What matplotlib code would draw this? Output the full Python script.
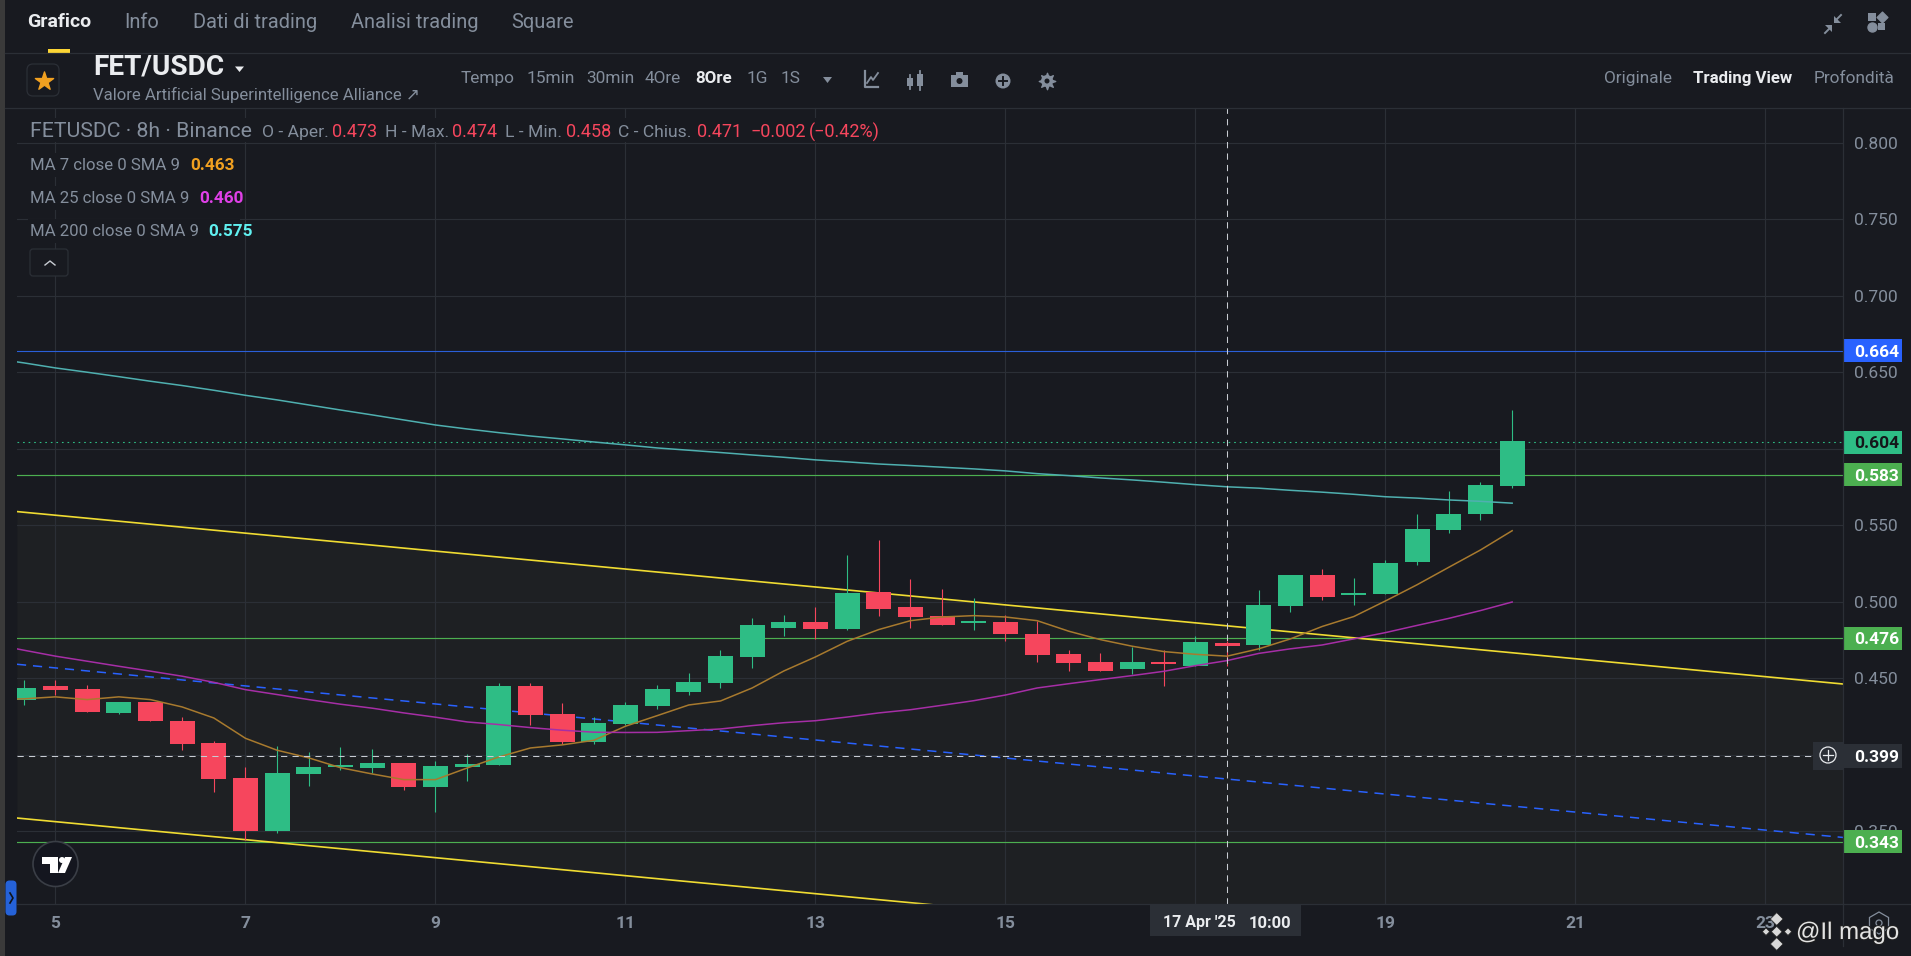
import numpy as np
import matplotlib
matplotlib.use("Agg")
import matplotlib.pyplot as plt
import matplotlib.patheffects as pe
from matplotlib.patches import Rectangle, FancyBboxPatch, Circle, RegularPolygon, Polygon

plt.rcParams["font.family"] = ["Roboto", "DejaVu Sans"]

# 8h candles, values
opens = [0.4355, 0.4451, 0.4431, 0.4274, 0.4346, 0.4222, 0.4078, 0.3849, 0.3502, 0.3875, 0.3921, 0.3914,
         0.3947, 0.3790, 0.3921, 0.3934, 0.4451, 0.4268, 0.4084, 0.4202, 0.4320, 0.4411, 0.4470, 0.4640,
         0.4830, 0.4869, 0.4823, 0.5065, 0.4967, 0.4908, 0.4862, 0.4869, 0.4790, 0.4660, 0.4607, 0.4561,
         0.4607, 0.4581, 0.4730, 0.4714, 0.4974, 0.5171, 0.5041, 0.5052, 0.5261, 0.5470, 0.5569, 0.5757]
highs = [0.4490, 0.4490, 0.4457, 0.4346, 0.4346, 0.4248, 0.4091, 0.3921, 0.4058, 0.4019, 0.4052, 0.4039,
         0.3947, 0.3960, 0.4006, 0.4470, 0.4470, 0.4339, 0.4248, 0.4346, 0.4457, 0.4535, 0.4686, 0.4895,
         0.4915, 0.4967, 0.5307, 0.5405, 0.5150, 0.5085, 0.5026, 0.4915, 0.4875, 0.4686, 0.4666, 0.4701,
         0.4686, 0.4777, 0.4740, 0.5076, 0.5175, 0.5212, 0.5157, 0.5273, 0.5574, 0.5725, 0.5783, 0.6249]
lows = [0.4322, 0.4392, 0.4281, 0.4268, 0.4222, 0.4032, 0.3757, 0.3444, 0.3489, 0.3797, 0.3901, 0.3882,
        0.3771, 0.3627, 0.3829, 0.3934, 0.4196, 0.4071, 0.4071, 0.4195, 0.4300, 0.4392, 0.4437, 0.4568,
        0.4777, 0.4758, 0.4817, 0.4908, 0.4830, 0.4849, 0.4817, 0.4745, 0.4607, 0.4548, 0.4548, 0.4529,
        0.4450, 0.4581, 0.4580, 0.4684, 0.4930, 0.5008, 0.4980, 0.5052, 0.5238, 0.5446, 0.5532, 0.5741]
closes = [0.4438, 0.4424, 0.4281, 0.4346, 0.4222, 0.4071, 0.3842, 0.3502, 0.3882, 0.3921, 0.3927, 0.3947,
          0.3790, 0.3927, 0.3941, 0.4451, 0.4261, 0.4084, 0.4209, 0.4326, 0.4431, 0.4476, 0.4647, 0.4849,
          0.4869, 0.4823, 0.5059, 0.4954, 0.4902, 0.4849, 0.4869, 0.4790, 0.4653, 0.4601, 0.4548, 0.4607,
          0.4594, 0.4738, 0.4710, 0.4980, 0.5171, 0.5032, 0.5059, 0.5254, 0.5477, 0.5569, 0.5764, 0.6047]

# moving averages, one value per candle plus one candle before the first
ma7 = [0.4360, 0.4364, 0.4377, 0.4359, 0.4377, 0.4359, 0.4311, 0.4239, 0.4106, 0.4028, 0.3978, 0.3914,
       0.3873, 0.3836, 0.3836, 0.3912, 0.3984, 0.4043, 0.4063, 0.4093, 0.4185, 0.4254, 0.4324, 0.4350,
       0.4435, 0.4546, 0.4638, 0.4740, 0.4817, 0.4875, 0.4899, 0.4908, 0.4899, 0.4875, 0.4806, 0.4751,
       0.4708, 0.4673, 0.4655, 0.4643, 0.4691, 0.4756, 0.4837, 0.4902, 0.5004, 0.5110, 0.5224, 0.5337, 0.5463]
ma25 = [0.4722, 0.4682, 0.4643, 0.4610, 0.4577, 0.4545, 0.4512, 0.4472, 0.4424, 0.4392, 0.4359, 0.4329,
        0.4303, 0.4272, 0.4244, 0.4213, 0.4196, 0.4176, 0.4159, 0.4146, 0.4144, 0.4145, 0.4156, 0.4167,
        0.4189, 0.4208, 0.4221, 0.4245, 0.4272, 0.4293, 0.4322, 0.4352, 0.4389, 0.4435, 0.4463, 0.4490,
        0.4516, 0.4544, 0.4581, 0.4614, 0.4661, 0.4691, 0.4716, 0.4756, 0.4797, 0.4844, 0.4890, 0.4941, 0.4997]
ma200 = [0.6590, 0.6560, 0.6527, 0.6499, 0.6470, 0.6440, 0.6412, 0.6381, 0.6348, 0.6318, 0.6285, 0.6252,
         0.6220, 0.6187, 0.6154, 0.6128, 0.6104, 0.6082, 0.6063, 0.6043, 0.6024, 0.6004, 0.5989, 0.5974,
         0.5958, 0.5943, 0.5926, 0.5913, 0.5899, 0.5889, 0.5878, 0.5867, 0.5854, 0.5836, 0.5823, 0.5808,
         0.5795, 0.5780, 0.5764, 0.5750, 0.5741, 0.5727, 0.5715, 0.5701, 0.5685, 0.5676, 0.5664, 0.5655, 0.5643]

# drawn objects
trend_days = [4.595, 23.816]
channel_top = [0.5588, 0.4461]
channel_bottom = [0.3585, 0.2454]
channel_mid = [0.4590, 0.3458]
level_664 = 0.664
levels_green = [0.583, 0.476, 0.343]
last_price = 0.604
cross_price = 0.399
cross_day = 17.333

# 0.600, 0.400 and day 17 sit behind the tags, only their grid lines show
price_ticks = [0.800, 0.750, 0.700, 0.650, 0.600, 0.550, 0.500, 0.450, 0.400, 0.350]
price_tick_labels = ["0.800", "0.750", "0.700", "0.650", "", "0.550", "0.500", "0.450", "", "0.350"]
day_ticks = [5, 7, 9, 11, 13, 15, 17, 19, 21, 23]
day_tick_labels = ["5", "7", "9", "11", "13", "15", "", "19", "21", "23"]

tabs = [("Grafico", 27, "#EAECEF"), ("Info", 124, "#848E9C"), ("Dati di trading", 193, "#848E9C"),
        ("Analisi trading", 351, "#848E9C"), ("Square", 511, "#848E9C")]
intervals = [("Tempo", 461), ("15min", 527), ("30min", 586), ("4Ore", 645), ("8Ore", 695), ("1G", 746), ("1S", 780)]
views = [("Originale", 1604, "#848E9C"), ("Trading View", 1693, "#EAECEF"), ("Profondità", 1814, "#848E9C")]
ohlc_runs = [("O - Aper.", 262, "#848E9C"), ("0.473", 332, "#F6465D"), ("H - Max.", 385, "#848E9C"),
             ("0.474", 452, "#F6465D"), ("L - Min.", 505, "#848E9C"), ("0.458", 566, "#F6465D"),
             ("C - Chius.", 618, "#848E9C"), ("0.471", 697, "#F6465D"), ("−0.002", 750, "#F6465D"),
             ("(−0.42%)", 809, "#F6465D")]
ma_rows = [("MA 7 close 0 SMA 9", "0.463", 190, 165, "#F0A020"),
           ("MA 25 close 0 SMA 9", "0.460", 199, 198, "#E040E8"),
           ("MA 200 close 0 SMA 9", "0.575", 208, 231, "#60F0F0")]

BG = "#181A20"
CHANNEL = "#1E2023"
GRID = "#2B2F36"
GRAY = "#848E9C"
UP = "#2EBD85"
DOWN = "#F6465D"
W, H = 1911, 956
AX_L, AX_R, AX_T, AX_B = 17, 1843, 108, 904

fig = plt.figure(figsize=(W / 100, H / 100), dpi=100, facecolor=BG)
ax = fig.add_axes([AX_L / W, 1 - AX_B / H, (AX_R - AX_L) / W, (AX_B - AX_T) / H], zorder=1)
ax.set_facecolor(BG)
ax.set_xlim(trend_days[0], trend_days[1])
ax.set_ylim(0.3023, 0.8226)

ax.set_xticks(day_ticks)
ax.set_xticklabels(day_tick_labels, fontweight="bold")
ax.set_yticks(price_ticks)
ax.set_yticklabels(price_tick_labels)
ax.yaxis.tick_right()
ax.tick_params(axis="both", length=0, colors=GRAY, labelsize=12.5)
ax.tick_params(axis="x", pad=9)
ax.tick_params(axis="y", pad=8)
ax.grid(True, color=GRID, linewidth=0.85, zorder=1)
ax.set_axisbelow(True)
for side in ax.spines.values():
    side.set_visible(False)

# channel fill, slightly lighter than the chart
ax.fill_between(trend_days, channel_bottom, channel_top, color=CHANNEL, linewidth=0, zorder=0.5)

# levels
ax.axhline(level_664, color="#2A5FD8", linewidth=0.8, zorder=2)
for lev in levels_green:
    ax.axhline(lev, color="#4CAF50", linewidth=0.85, zorder=2)
ax.axhline(last_price, color=UP, linewidth=0.8, linestyle=(0, (1.5, 3.5)), zorder=2)

ax.plot(trend_days, channel_top, color="#F0DC32", linewidth=1.2, zorder=2.2)
ax.plot(trend_days, channel_bottom, color="#F0DC32", linewidth=1.2, zorder=2.2)
ax.plot(trend_days, channel_mid, color="#2962FF", linewidth=1.1, linestyle=(0, (6, 4.5)), zorder=2.2)

# candles
days = 4 + 2 / 3 + np.arange(len(opens)) / 3
o = np.array(opens)
h = np.array(highs)
l = np.array(lows)
c = np.array(closes)
colors = [UP if up else DOWN for up in c >= o]
ax.vlines(days, l, h, colors=colors, linewidth=0.8, zorder=3)
ax.bar(days, np.maximum(np.abs(c - o), 0.001), bottom=np.minimum(o, c), width=0.263, color=colors, linewidth=0, zorder=3.1)

# moving averages
ma_days = 4 + 1 / 3 + np.arange(len(ma7)) / 3
ax.plot(ma_days, ma7, color="#A87A2E", linewidth=1.1, zorder=4)
ax.plot(ma_days, ma25, color="#A62EA6", linewidth=1.1, zorder=4)
ax.plot(ma_days, ma200, color="#4FB0B0", linewidth=1.1, zorder=4)

# crosshair
ax.axvline(cross_day, color="#C8CCD2", linewidth=0.75, linestyle=(0, (6, 5)), zorder=5)
ax.plot([trend_days[0], trend_days[0] + (1813 - AX_L) / 95], [cross_price, cross_price],
        color="#C8CCD2", linewidth=0.75, linestyle=(0, (6, 5)), zorder=5)


def price_label(value, bg, fg):
    # box on the price scale, centred on the value
    frac = 59 / (AX_R - AX_L)
    ax.add_patch(Rectangle((1, value - 0.0076), frac, 0.0152, transform=ax.get_yaxis_transform(),
                           facecolor=bg, edgecolor="none", clip_on=False, zorder=6))
    ax.text(1 + 11 / (AX_R - AX_L), value, "%.3f" % value, transform=ax.get_yaxis_transform(),
            color=fg, fontsize=12.5, fontweight="bold", va="center_baseline", ha="left", zorder=7)


price_label(level_664, "#2962FF", "#FFFFFF")
price_label(last_price, UP, "#14161A")
for lev in levels_green:
    price_label(lev, "#4CAF50", "#FFFFFF")
price_label(cross_price, "#2B2F36", "#FFFFFF")

# everything outside the plot, in pixel coordinates
ui = fig.add_axes([0, 0, 1, 1], zorder=2)
ui.set_xlim(0, W)
ui.set_ylim(H, 0)
ui.axis("off")


def txt(x, y, s, color=GRAY, size=11, weight="normal", **kw):
    return ui.text(x, y, s, color=color, fontsize=size, fontweight=weight, va="center", ha=kw.pop("ha", "left"), **kw)


def rect(x0, y0, x1, y1, color, z=1):
    ui.add_patch(Rectangle((x0, y0), x1 - x0, y1 - y0, facecolor=color, edgecolor="none", zorder=z))


# frame and side strip
rect(0, 0, 5, H, "#3A3A3A")
ui.plot([5, W], [53, 53], color=GRID, linewidth=0.9)
ui.plot([5, W], [108, 108], color=GRID, linewidth=0.9)
ui.plot([AX_L, W], [AX_B, AX_B], color=GRID, linewidth=0.9)
ui.plot([AX_R, AX_R], [AX_T, 946], color=GRID, linewidth=0.9)

# top tabs
for name, x, col in tabs:
    if name == "Grafico":
        txt(x, 22, name, col, 14, "bold")
    else:
        txt(x, 22, name, col, 14.4)
rect(48, 49, 70, 53, "#FCD535")

# symbol header
ui.add_patch(FancyBboxPatch((30, 67), 26, 26, boxstyle="round,pad=3,rounding_size=6", facecolor=BG, edgecolor=GRID, linewidth=0.9))
ui.scatter([44], [81], marker="*", s=190, color="#F0A020", zorder=3)
txt(93, 67, "FET/USDC", "#EAECEF", 20.2, "bold")
ui.add_patch(Polygon([[235, 66.5], [244, 66.5], [239.5, 72]], facecolor="#EAECEF", edgecolor="none"))
txt(93, 95, "Valore Artificial Superintelligence Alliance ↗", GRAY, 12.05)

for name, x in intervals:
    if name == "8Ore":
        txt(x, 78, name, "#EAECEF", 12.2, "bold")
    else:
        txt(x, 78, name, GRAY, 12.4)
ui.add_patch(Polygon([[823, 77], [832, 77], [827.5, 83]], facecolor=GRAY, edgecolor="none"))

# toolbar icons
ui.plot([865, 865, 878], [71, 87, 87], color=GRAY, linewidth=1.6)
ui.plot([867, 871, 873, 878], [83, 77, 80, 73], color=GRAY, linewidth=1.3)
rect(907, 78, 913, 86, GRAY)
ui.plot([910, 910], [75, 89], color=GRAY, linewidth=1.3)
rect(917, 74, 923, 86, GRAY)
ui.plot([920, 920], [71, 90], color=GRAY, linewidth=1.3)
rect(951, 75, 968, 87, GRAY)
rect(956, 72, 963, 76, GRAY)
ui.add_patch(Circle((959.5, 81), 3, facecolor=BG, edgecolor="none", zorder=2))
ui.add_patch(Circle((1003, 81), 7.5, facecolor=GRAY, edgecolor="none", zorder=2))
ui.plot([1003, 1003], [77, 85], color=BG, linewidth=1.4, zorder=3)
ui.plot([999, 1007], [81, 81], color=BG, linewidth=1.4, zorder=3)
ui.scatter([1047], [81], marker=(8, 1, 0), s=140, color=GRAY, zorder=2)
ui.add_patch(Circle((1047, 81), 6, facecolor=GRAY, edgecolor="none", zorder=2))
ui.add_patch(Circle((1047, 81), 2.5, facecolor=BG, edgecolor="none", zorder=3))

for name, x, col in views:
    if name == "Trading View":
        txt(x, 78, name, col, 12.1, "bold")
    else:
        txt(x, 78, name, col, 12.4)

# top right icons
ui.add_patch(Polygon([[1832, 25], [1825, 25], [1832, 32]], facecolor=GRAY, edgecolor="none"))
ui.plot([1829, 1825], [29, 33], color=GRAY, linewidth=1.4)
ui.add_patch(Polygon([[1834, 23], [1841, 23], [1834, 16]], facecolor=GRAY, edgecolor="none"))
ui.plot([1837, 1841], [19, 15], color=GRAY, linewidth=1.4)
rect(1868, 13, 1876, 21, GRAY)
ui.scatter([1881.5], [17], marker="D", s=30, color=GRAY)
ui.scatter([1872], [27], marker="o", s=42, color=GRAY)
rect(1878, 23, 1885, 30, GRAY)

# legend block, background hides the grid behind the rows
rect(17, 118, 880, 142, BG)
txt(30, 131, "FETUSDC · 8h · Binance", GRAY, 15.3)
for s, x, col in ohlc_runs:
    txt(x, 132, s, col, 13 if col == DOWN else 12.6)
for label, val, x, y, col in ma_rows:
    rect(28, y - 12, 240, y + 12, BG)
    txt(30, y, label, GRAY, 12.1)
    txt(x, y, val, col, 12.4, "bold")
ui.add_patch(FancyBboxPatch((33, 252), 32, 21, boxstyle="round,pad=3,rounding_size=3", facecolor=BG, edgecolor=GRID, linewidth=0.9))
ui.plot([45, 50, 55], [265, 261, 265], color="#C8CCD2", linewidth=1)

# crosshair tags
rect(1813, 742, 1843, 770, "#2B2F36")
ui.add_patch(Circle((1828, 755), 8, facecolor="none", edgecolor="#EAECEF", linewidth=0.9, zorder=2))
ui.plot([1828, 1828], [750, 760], color="#EAECEF", linewidth=0.9, zorder=2)
ui.plot([1823, 1833], [755, 755], color="#EAECEF", linewidth=0.9, zorder=2)
rect(1150, 904, 1301, 936, "#2B2F36")
txt(1163, 923, "17 Apr '25", "#EAECEF", 11.5, "bold")
txt(1249, 923, "10:00", "#EAECEF", 12, "bold")

# TradingView badge and the blue pill
ui.add_patch(Circle((55.5, 864), 22.5, facecolor="#14161F", edgecolor="#3A3E46", linewidth=1.2, zorder=2))
ui.add_patch(Polygon([[42, 857], [58, 857], [58, 873], [50, 873], [50, 864], [42, 864]], facecolor="white", edgecolor="none", zorder=3))
ui.add_patch(Circle((62, 860), 3, facecolor="white", edgecolor="none", zorder=3))
ui.add_patch(Polygon([[65, 857], [72, 857], [65, 873], [58, 873]], facecolor="white", edgecolor="none", zorder=3))
ui.add_patch(FancyBboxPatch((8, 883), 6, 30, boxstyle="round,pad=2.5,rounding_size=4", facecolor="#2562D8", edgecolor="none", zorder=3))
ui.plot([10, 13, 10], [893, 898, 903], color="#101418", linewidth=1.2, zorder=4)

# watermark
ui.add_patch(RegularPolygon((1879, 923), 6, radius=11, facecolor="none", edgecolor=GRAY, linewidth=0.9, zorder=3))
ui.add_patch(Circle((1879, 923), 3, facecolor="none", edgecolor=GRAY, linewidth=0.9, zorder=3))
ui.scatter([1776.7, 1776.7, 1776.7, 1766, 1788], [931.7, 919, 944, 931.7, 931.7], marker="D",
           s=[30, 42, 42, 14, 14], color="#D8D8D8", edgecolors="#222222", linewidths=0.5, zorder=4)
wm = txt(1796, 933, "@Il mago", "#E4E4E4", 17.3, family="Liberation Sans", zorder=5)
wm.set_path_effects([pe.withStroke(linewidth=1.5, foreground="#202020")])

fig.savefig("out.png", dpi=100, facecolor=BG)
